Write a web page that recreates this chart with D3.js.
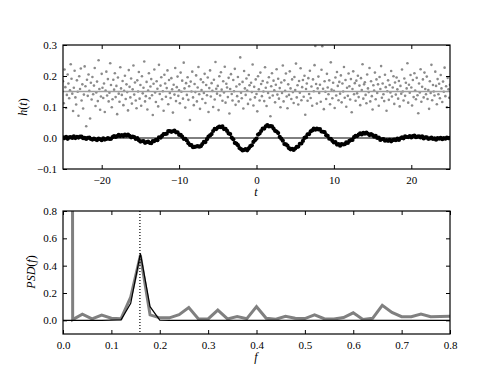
<!DOCTYPE html>
<html>
<head>
<meta charset="utf-8">
<script src="https://cdn.jsdelivr.net/npm/d3@7"></script>
<style>
body { margin: 0; background: #fff; }
</style>
</head>
<body>
<svg width="500" height="375"></svg>
<script>
// time range of both sampled series (evenly sampled)
const tRange = [-25, 25];

// low-noise series, h(t) (black points)
const hLow = [
.0022,-.0004,.004,-.0026,.0017,.003,.0003,.0055,-.0004,.0035,
.0014,.0042,.0048,-.0007,.0007,-.003,.0003,.0015,-.0033,-.005,
-.0017,-.0043,-.0067,-.002,-.0041,-.0069,-.0015,-.005,-.0032,-.0002,
-.003,-.0027,.0028,.0062,.0036,.0059,.0101,.0061,.0097,.0061,
.011,.0076,.0108,.0066,.0021,.0042,.0031,-.0033,-.0007,-.0071,
-.0114,-.0105,-.0103,-.0157,-.0135,-.0118,-.0155,-.0166,-.01,-.0099,
-.0062,-.0071,.0024,.0011,.0068,.0124,.0129,.0138,.0222,.0219,
.0198,.0218,.024,.0182,.0186,.0102,.0101,.0044,-.0026,-.0028,
-.008,-.0168,-.0222,-.023,-.0298,-.0287,-.0274,-.0259,-.0283,-.0264,
-.0195,-.0126,-.013,-.0038,.0047,.0083,.0127,.0225,.0297,.0288,
.0338,.0364,.0347,.0375,.0288,.0299,.0227,.0146,.0126,.0012,
-.0044,-.0159,-.0179,-.0232,-.0325,-.0356,-.0402,-.0384,-.0359,-.0399,
-.0334,-.0265,-.0235,-.0125,-.0069,-.002,.0109,.0145,.0225,.0305,
.0304,.0379,.0419,.0374,.0382,.0376,.0305,.0232,.0209,.0159,
.0034,-.0022,-.0086,-.0196,-.0207,-.0249,-.0328,-.0365,-.0347,-.0384,
-.0338,-.0288,-.0277,-.0185,-.0177,-.0093,.0003,.0028,.012,.0126,
.0215,.0244,.0303,.0269,.0304,.0277,.0288,.021,.0202,.0188,
.009,.0068,-.0024,-.0024,-.0091,-.0142,-.0136,-.0212,-.02,-.0248,
-.0198,-.0209,-.0202,-.0138,-.0159,-.0094,-.0068,-.0061,.0026,.0071,
.0062,.0109,.015,.0116,.0165,.0138,.0175,.0137,.0093,.0125,
.0094,.0041,.0067,.0003,.0009,-.0062,-.0041,-.0036,-.0088,-.0066,
-.009,-.0061,-.0107,-.0071,-.0051,-.0069,-.0016,-.0062,-.0008,.0017,
-.001,.0052,.0032,.003,.0065,.0019,.0061,.008,.0027,.0043,
.0057,.002,.0053,-.0015,.0017,.002,-.0027,-.0013,.0012,-.0032,
-.0014,-.0055,-.0006,-.0025,.0007,-.004,-.0007,-.0024,.001,-.0006,
.0008
];

// high-noise series with 0.15 offset (gray points)
const hHigh = [
.183,.112,.221,.164,.097,.139,.205,.176,.128,.154,
.238,.191,.143,.087,.162,.217,.131,.108,.186,.149,
.072,.199,.158,.224,.121,.173,.095,.140,.231,.167,
.038,.188,.136,.205,.152,.063,.178,.124,.197,.141,
.169,.226,.103,.147,.182,.119,.251,.158,.091,.134,
.207,.162,.129,.176,.084,.153,.214,.137,.190,.118,
.146,.241,.171,.099,.125,.188,.156,.209,.132,.168,
.077,.195,.143,.117,.228,.160,.139,.184,.106,.152,
.201,.126,.173,.148,.089,.219,.165,.131,.192,.111,
.157,.234,.140,.179,.121,.096,.186,.150,.213,.127,
.171,.104,.199,.144,.162,.247,.118,.135,.181,.092,
.153,.209,.128,.166,.190,.138,.074,.175,.221,.147,
.116,.183,.159,.102,.236,.142,.169,.196,.125,.151,
.088,.204,.176,.133,.161,.218,.109,.187,.145,.129,
.193,.157,.082,.172,.140,.226,.119,.164,.198,.136,
.154,.112,.211,.149,.185,.127,.243,.160,.098,.177,
.139,.196,.123,.167,.058,.182,.150,.214,.131,.106,
.174,.148,.202,.118,.163,.229,.141,.094,.189,.155,
.126,.180,.145,.207,.113,.171,.138,.195,.084,.161,
.218,.134,.177,.152,.100,.188,.124,.245,.159,.143,
.168,.090,.199,.137,.212,.156,.120,.183,.147,.230,
.114,.175,.163,.132,.194,.079,.158,.206,.142,.121,
.187,.151,.223,.107,.166,.135,.197,.118,.173,.260,
.146,.128,.181,.095,.216,.160,.139,.192,.153,.110,
.203,.170,.124,.178,.148,.237,.105,.165,.131,.189,
.142,.086,.199,.157,.121,.211,.174,.135,.184,.150,
.119,.228,.162,.103,.179,.145,.196,.130,.070,.167,
.209,.137,.185,.154,.115,.172,.222,.140,.191,.127,
.161,.099,.179,.145,.234,.118,.186,.152,.208,.134,
.096,.173,.139,.215,.160,.126,.189,.148,.113,.197,
.155,.240,.131,.170,.108,.184,.146,.225,.122,.164,
.187,.133,.201,.075,.158,.176,.120,.193,.142,.217,
.129,.166,.104,.189,.151,.235,.297,.174,.111,.160,
.198,.145,.172,.117,.220,.296,.159,.093,.183,.149,
.126,.207,.163,.141,.186,.109,.244,.156,.128,.178,
.152,.097,.195,.137,.213,.168,.122,.181,.143,.202,
.115,.176,.150,.229,.130,.187,.101,.162,.136,.208,
.167,.124,.190,.083,.158,.215,.141,.177,.120,.185,
.144,.201,.132,.169,.106,.193,.155,.238,.127,.173,
.180,.139,.112,.205,.160,.148,.226,.118,.183,.135,
.092,.170,.153,.211,.125,.189,.145,.173,.104,.197,
.158,.232,.130,.176,.141,.119,.204,.164,.088,.151,
.186,.123,.171,.147,.216,.134,.163,.199,.110,.179,
.140,.195,.157,.127,.184,.102,.168,.143,.221,.150,
.121,.192,.136,.178,.160,.241,.114,.172,.146,.203,
.163,.105,.187,.132,.209,.153,.125,.194,.138,.080,
.176,.147,.222,.117,.165,.189,.131,.211,.158,.141,
.198,.126,.155,.094,.183,.145,.236,.122,.171,.150,
.137,.214,.168,.109,.190,.141,.175,.128,.203,.160,
.116,.182,.149,.227,.135,.167,.099,.194,.157,.130,
.172
];

// reference levels of the two series
const levels = [
  { y: 0, color: "#000", width: 1 },
  { y: 0.15, color: "#a0a0a0", width: 1.5 }
];

// PSD
const psdFreq = [0,.02,.04,.06,.08,.10,.12,.14,.16,.18,.20,.22,.24,.26,.28,.30,.32,.34,.36,.38,
  .40,.42,.44,.46,.48,.50,.52,.54,.56,.58,.60,.62,.64,.66,.68,.70,.72,.74,.76,.78,.80,.82];
const psdHigh = [60,.005,.045,.010,.038,.015,.012,.170,.475,.040,.018,.018,.042,.093,.010,.010,.075,.010,.028,.012,
  .100,.015,.008,.030,.015,.013,.040,.012,.010,.020,.055,.007,.015,.110,.058,.027,.027,.046,.027,.028,.030,.030];
const psdLow = [0,0,0,0,0,.001,.003,.125,.490,.100,.002,0,0,0,0,0,0,0,0,0,
  0,0,0,0,0,0,0,0,0,0,0,0,0,0,0,0,0,0,0,0,0,0];
const fPeak = 0.159;

const FONT = "'Liberation Serif', 'DejaVu Serif', serif";
const svg = d3.select("svg");
const L = 63, R = 450;
const p1 = { top: 45, bot: 169 }, p2 = { top: 211, bot: 334 };

const x1 = d3.scaleLinear().domain(tRange).range([L, R]);
const y1 = d3.scaleLinear().domain([-0.1, 0.3]).range([p1.bot, p1.top]);
const x2 = d3.scaleLinear().domain([0, 0.8]).range([L, R]);
const y2 = d3.scaleLinear().domain([-0.1, 0.8]).range([p2.bot, p2.top]);

const tOf = (i, n) => tRange[0] + (tRange[1] - tRange[0]) * i / (n - 1);

// clip
const defs = svg.append("defs");
defs.append("clipPath").attr("id", "c1").append("rect")
  .attr("x", L).attr("y", p1.top).attr("width", R - L).attr("height", p1.bot - p1.top);
defs.append("clipPath").attr("id", "c2").append("rect")
  .attr("x", L).attr("y", p2.top).attr("width", R - L).attr("height", p2.bot - p2.top);

// ---- top panel
const g1 = svg.append("g").attr("clip-path", "url(#c1)");

g1.selectAll(".gray").data(hHigh).enter().append("circle")
  .attr("cx", (d, i) => x1(tOf(i, hHigh.length)))
  .attr("cy", d => y1(d))
  .attr("r", 1.3)
  .attr("fill", "#8a8a8a");

g1.selectAll(".blk").data(hLow).enter().append("circle")
  .attr("cx", (d, i) => x1(tOf(i, hLow.length)))
  .attr("cy", d => y1(d))
  .attr("r", 2.1)
  .attr("fill", "#000");

g1.selectAll(".lvl").data(levels).enter().append("line")
  .attr("x1", L).attr("x2", R)
  .attr("y1", d => y1(d.y)).attr("y2", d => y1(d.y))
  .attr("stroke", d => d.color).attr("stroke-width", d => d.width);

// ---- bottom panel
const g2 = svg.append("g").attr("clip-path", "url(#c2)");
const line2 = (vals) => d3.line().x((d, i) => x2(psdFreq[i])).y(d => y2(d))(vals);

g2.append("path").attr("d", line2(psdHigh))
  .attr("fill", "none").attr("stroke", "#808080").attr("stroke-width", 3)
  .attr("stroke-linejoin", "miter");
g2.append("path").attr("d", line2(psdLow))
  .attr("fill", "none").attr("stroke", "#000").attr("stroke-width", 1.2);
g2.append("line")
  .attr("x1", x2(fPeak)).attr("x2", x2(fPeak))
  .attr("y1", p2.top).attr("y2", p2.bot)
  .attr("stroke", "#000").attr("stroke-width", 1.2).attr("stroke-dasharray", "1,2");

// ---- axes
function frame(x, y, p, xTicks, yTicks, xFmt, yFmt) {
  const styl = s => {
    s.select(".domain").remove();
    s.attr("font-size", 11).attr("font-family", FONT);
    s.selectAll("text").attr("fill", "#000").style("font-family", FONT);
    s.selectAll("line").attr("stroke", "#000");
  };
  svg.append("g").attr("transform", `translate(0,${p.bot})`)
    .call(d3.axisBottom(x).tickValues(xTicks).tickFormat(xFmt).tickSize(-4).tickPadding(7)).call(styl);
  svg.append("g").attr("transform", `translate(0,${p.top})`)
    .call(d3.axisTop(x).tickValues(xTicks).tickFormat("").tickSize(-4)).call(styl);
  svg.append("g").attr("transform", `translate(${L},0)`)
    .call(d3.axisLeft(y).tickValues(yTicks).tickFormat(yFmt).tickSize(-4).tickPadding(6)).call(styl);
  svg.append("g").attr("transform", `translate(${R},0)`)
    .call(d3.axisRight(y).tickValues(yTicks).tickFormat("").tickSize(-4)).call(styl);
  svg.append("rect").attr("x", L).attr("y", p.top).attr("width", R - L).attr("height", p.bot - p.top)
    .attr("fill", "none").attr("stroke", "#000").attr("stroke-width", 1.2);
}
frame(x1, y1, p1, [-20, -10, 0, 10, 20], [-0.1, 0, 0.1, 0.2, 0.3], d3.format("d"), d3.format(".1f"));
frame(x2, y2, p2, [0, .1, .2, .3, .4, .5, .6, .7, .8], [0, .2, .4, .6, .8], d3.format(".1f"), d3.format(".1f"));

// ---- labels
function mathLabel(parts, x, y, rot) {
  const t = svg.append("text").attr("x", x).attr("y", y).attr("font-size", 12)
    .style("font-family", FONT)
    .attr("text-anchor", "middle").attr("dominant-baseline", "central")
    .attr("transform", rot ? `rotate(-90,${x},${y})` : null);
  parts.forEach(([s, it]) => t.append("tspan").text(s).attr("font-style", it ? "italic" : "normal"));
}
mathLabel([["h", 1], ["(", 0], ["t", 1], [")", 0]], 23, 107, true);
mathLabel([["t", 1]], 256, 192, false);
mathLabel([["P", 1], ["S", 1], ["D", 1], ["(", 0], ["f", 1], [")", 0]], 31, 272, true);
mathLabel([["f", 1]], 256, 357, false);
</script>
</body>
</html>
